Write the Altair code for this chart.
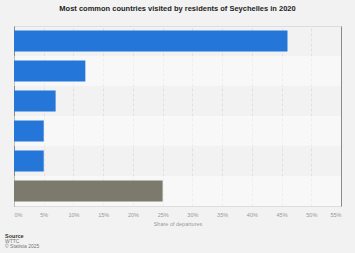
import altair as alt
import pandas as pd

countries = ["Country A", "Country B", "Country C", "Country D", "Country E", "Others"]
shares = [46, 12, 7, 5, 5, 25]
kinds = ["main", "main", "main", "main", "main", "other"]
source_lines = ["Source", "WTTC", "© Statista 2025"]

df = pd.DataFrame({"country": countries, "share": shares, "kind": kinds,
                   "row": [i % 2 for i in range(len(countries))]})
src = pd.DataFrame({"line": source_lines, "i": list(range(len(source_lines)))})

W, H = 327, 180

y_enc = alt.Y("country:N", sort=countries,
              scale=alt.Scale(paddingInner=0, paddingOuter=0),
              axis=alt.Axis(labels=False, ticks=False, title=None, domain=True,
                            domainColor="#8a8a8a", domainWidth=1, grid=False))

bands = alt.Chart(df).mark_bar(size=H / 6, color="white").encode(
    y=y_enc,
    x=alt.value(0), x2=alt.value(W),
    opacity=alt.Opacity("row:N", scale=alt.Scale(domain=[0, 1], range=[0, 0.45]), legend=None),
)

bars = alt.Chart(df).mark_bar(size=21).encode(
    y=y_enc,
    x=alt.X("share:Q", scale=alt.Scale(domain=[0, 55], nice=False),
            axis=alt.Axis(values=list(range(0, 56, 5)), labelExpr="datum.value + '%'",
                          title="Share of departures", titleFontSize=5.5, titleColor="#999",
                          titleFontWeight="normal", titlePadding=4,
                          labelFontSize=5.5, labelColor="#999", labelPadding=6,
                          ticks=False, domain=False, grid=True, gridDash=[3, 2],
                          gridColor="#e0e0e0", gridWidth=1)),
    color=alt.Color("kind:N", scale=alt.Scale(domain=["main", "other"], range=["#2576d9", "#7b7a6d"]), legend=None),
)

src_y = alt.Y("i:Q", scale=alt.Scale(domain=[0, 2], range=[210, 220]), axis=None)
source_bold = alt.Chart(src).transform_filter("datum.i == 0").mark_text(
    align="left", baseline="middle", fontSize=5.5, color="#333", fontWeight="bold").encode(
    x=alt.value(-9), y=src_y, text="line:N")
source_rest = alt.Chart(src).transform_filter("datum.i > 0").mark_text(
    align="left", baseline="middle", fontSize=5, color="#777").encode(
    x=alt.value(-9), y=src_y, text="line:N")

chart = alt.layer(bands, bars, source_bold, source_rest).resolve_scale(
    y="independent", color="independent", opacity="independent").properties(
    width=W, height=H,
    title=alt.TitleParams("Most common countries visited by residents of Seychelles in 2020",
                          fontSize=7.5, fontWeight="bold", color="#222", offset=14, anchor="middle"),
    autosize=alt.AutoSizeParams(type="none"),
    padding={"left": 14, "top": 26, "right": 14, "bottom": 47},
    background="#f2f2f2",
).configure_view(stroke=None).configure(font="Arial")

chart.save("out.html", embed_options={"renderer": "svg", "actions": False})
